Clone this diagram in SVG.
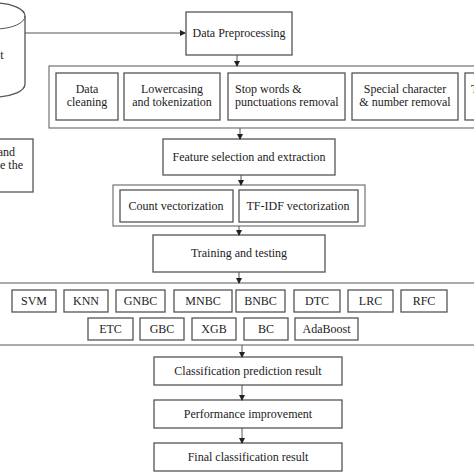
<svg xmlns="http://www.w3.org/2000/svg" width="474" height="474" viewBox="0 0 474 474">
<style>
.b{fill:#fff;stroke:#555;stroke-width:1.3}
.o{fill:none;stroke:#666;stroke-width:1.1}
.t{font-family:"Liberation Serif","Times New Roman",serif;font-size:12px;fill:#222;text-anchor:middle}
.c{stroke:#555;stroke-width:1;fill:none}
</style>
<defs>
<marker id="ah" markerWidth="6" markerHeight="6" refX="5" refY="3" orient="auto" markerUnits="userSpaceOnUse">
<path d="M0,0 L6,3 L0,6 Z" fill="#222"/>
</marker>
</defs>
<rect width="474" height="474" fill="#fff"/>
<g id="dataset">
<path class="b" d="M-35,16 A30,13 0 0 1 25,16 L25,84 A30,13 0 0 1 -35,84 Z"/>
<path class="c" d="M-35,16 A30,13 0 0 0 25,16"/>
<text class="t" x="2" y="59">t</text>
</g>
<g id="left-note">
<rect class="b" x="-40" y="139" width="73" height="53"/>
<text class="t" x="15" y="156" style="text-anchor:end">and</text>
<text class="t" x="23" y="169" style="text-anchor:end">e the</text>
</g>
<g id="data-preprocessing">
<rect class="b" x="186" y="12" width="106" height="43"/>
<text class="t" x="239" y="37">Data Preprocessing</text>
</g>
<g id="preprocessing-steps">
<rect class="o" x="49" y="66" width="440" height="62"/>
<rect class="b" x="56" y="73" width="62" height="47"/>
<text class="t" x="87" y="93">Data</text>
<text class="t" x="87" y="106">cleaning</text>
<rect class="b" x="124" y="73" width="96" height="47"/>
<text class="t" x="172" y="93">Lowercasing</text>
<text class="t" x="172" y="106">and tokenization</text>
<rect class="b" x="228" y="73" width="117" height="47"/>
<text class="t" x="235" y="93" style="text-anchor:start">Stop words &amp;</text>
<text class="t" x="235" y="106" style="text-anchor:start">punctuations removal</text>
<rect class="b" x="352" y="73" width="106" height="47"/>
<text class="t" x="405" y="93">Special character</text>
<text class="t" x="405" y="106">&amp; number removal</text>
<rect class="b" x="465" y="73" width="30" height="47"/>
<text class="t" x="471" y="93" style="text-anchor:start">T</text>
</g>
<g id="feature-selection">
<rect class="b" x="163" y="139" width="172" height="36"/>
<text class="t" x="249" y="161">Feature selection and extraction</text>
</g>
<g id="vectorization">
<rect class="o" x="113" y="185" width="252" height="41"/>
<rect class="b" x="120" y="190" width="113" height="32"/>
<text class="t" x="176" y="210">Count vectorization</text>
<rect class="b" x="239" y="190" width="119" height="32"/>
<text class="t" x="298" y="210">TF-IDF vectorization</text>
</g>
<g id="training-testing">
<rect class="b" x="153" y="235" width="172" height="37"/>
<text class="t" x="239" y="257">Training and testing</text>
</g>
<g id="classifiers">
<rect class="o" x="-2" y="283" width="478" height="62"/>
<rect class="b" x="12" y="290" width="44" height="22"/><text class="t" x="34" y="305">SVM</text>
<rect class="b" x="64" y="290" width="44" height="22"/><text class="t" x="86" y="305">KNN</text>
<rect class="b" x="116" y="290" width="49" height="22"/><text class="t" x="140.5" y="305">GNBC</text>
<rect class="b" x="174" y="290" width="58" height="22"/><text class="t" x="203" y="305">MNBC</text>
<rect class="b" x="236" y="290" width="49" height="22"/><text class="t" x="260.5" y="305">BNBC</text>
<rect class="b" x="294" y="290" width="46" height="22"/><text class="t" x="317" y="305">DTC</text>
<rect class="b" x="348" y="290" width="45" height="22"/><text class="t" x="370.5" y="305">LRC</text>
<rect class="b" x="401" y="290" width="46" height="22"/><text class="t" x="424" y="305">RFC</text>
<rect class="b" x="88" y="318" width="45" height="22"/><text class="t" x="110.5" y="333">ETC</text>
<rect class="b" x="140" y="318" width="44" height="22"/><text class="t" x="162" y="333">GBC</text>
<rect class="b" x="192" y="318" width="44" height="22"/><text class="t" x="214" y="333">XGB</text>
<rect class="b" x="244" y="318" width="44" height="22"/><text class="t" x="266" y="333">BC</text>
<rect class="b" x="295" y="318" width="63" height="22"/><text class="t" x="326.5" y="333">AdaBoost</text>
</g>
<g id="classification-prediction">
<rect class="b" x="154" y="357" width="188" height="28"/>
<text class="t" x="248" y="375">Classification prediction result</text>
</g>
<g id="performance-improvement">
<rect class="b" x="154" y="400" width="188" height="28"/>
<text class="t" x="248" y="418">Performance improvement</text>
</g>
<g id="final-result">
<rect class="b" x="154" y="443" width="188" height="28"/>
<text class="t" x="248" y="461">Final classification result</text>
</g>
<g id="connectors">
<line class="c" x1="25" y1="33" x2="185" y2="33" marker-end="url(#ah)"/>
<line class="c" x1="237" y1="55" x2="237" y2="66" marker-end="url(#ah)"/>
<line class="c" x1="240" y1="128" x2="240" y2="139" marker-end="url(#ah)"/>
<line class="c" x1="241" y1="175" x2="241" y2="185" marker-end="url(#ah)"/>
<line class="c" x1="239" y1="226" x2="239" y2="235" marker-end="url(#ah)"/>
<line class="c" x1="239" y1="272" x2="239" y2="283" marker-end="url(#ah)"/>
<line class="c" x1="242" y1="345" x2="242" y2="357" marker-end="url(#ah)"/>
<line class="c" x1="242" y1="385" x2="242" y2="400" marker-end="url(#ah)"/>
<line class="c" x1="242" y1="428" x2="242" y2="443" marker-end="url(#ah)"/>
</g>
</svg>
